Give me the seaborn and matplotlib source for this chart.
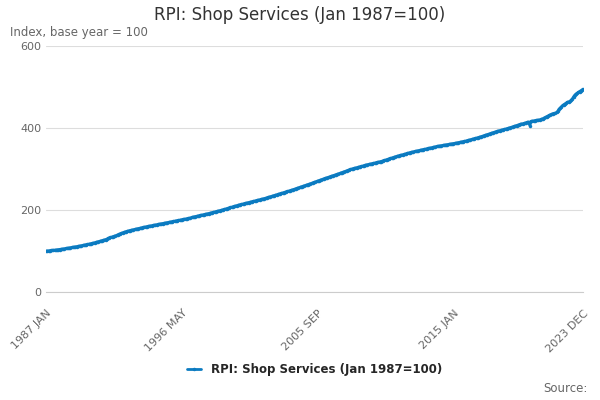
import matplotlib
matplotlib.use("Agg")
import matplotlib.pyplot as plt
import seaborn as sns
import pandas as pd
import numpy as np

years = list(range(1987, 2024))
months = ["JAN","FEB","MAR","APR","MAY","JUN","JUL","AUG","SEP","OCT","NOV","DEC"]
values_by_year = [
[100,100.3,100.6,101,101.3,101.6,102,102.3,102.6,103,103.3,103.6],
[104,104.5,105,105.6,106.1,106.6,107.2,107.7,108.2,108.8,109.3,109.7],
[110,110.6,111.2,111.8,112.4,113,113.6,114.2,114.8,115.4,116,116.5],
[117,117.8,118.6,119.5,120.3,121.1,122,122.8,123.6,124.5,125.3,126.1],
[127,128,129,131,132,133,134,135,136,137,138,139.5],
[141,142,143,144.5,145.5,146.5,147.5,148.5,149.3,150,150.7,151.4],
[152,152.7,153.4,154.1,154.8,155.5,156.2,156.9,157.6,158.3,158.9,159.5],
[160,160.6,161.2,161.8,162.4,163,163.6,164.2,164.8,165.4,166,166.5],
[167,167.6,168.2,168.8,169.4,170,170.6,171.2,171.8,172.4,173,173.5],
[174,174.6,175.2,175.8,176.4,177,177.6,178.2,178.8,179.4,180,180.5],
[182,182.7,183.4,184.1,184.8,185.5,186.2,186.9,187.6,188.3,188.9,189.5],
[190,190.7,191.4,192.2,193,193.8,194.6,195.4,196.2,197,197.7,198.4],
[199,199.9,200.8,201.7,202.6,203.5,204.4,205.3,206.2,207.1,208,209],
[210,210.8,211.5,212.3,213,213.8,214.5,215.3,216,216.8,217.5,218.2],
[219,219.8,220.5,221.3,222,222.8,223.5,224.3,225,225.8,226.5,227.2],
[228,228.9,229.8,230.7,231.6,232.5,233.4,234.3,235.2,236.1,237,238],
[239,239.9,240.8,241.7,242.6,243.5,244.4,245.3,246.2,247.1,248,249],
[250,251,252,253,254,255,256,257,258,259,260,261],
[262,263.1,264.2,265.3,266.4,267.5,268.6,269.7,270.8,271.9,273,274],
[275,276,277,278,279,280,281,282,283,284,285,286],
[287,288.1,289.2,290.3,291.4,292.5,293.6,294.7,295.8,296.9,298,299],
[300,300.8,301.6,302.4,303.2,304,304.8,305.6,306.4,307.2,308.3,309.2],
[310,310.6,311.2,311.8,312.5,313.2,313.9,314.6,315.3,316,316.7,317.3],
[318,319,320,321,322,323,324,325,326,327,328,329],
[330,330.8,331.6,332.4,333.2,334,334.8,335.6,336.4,337.2,338.4,339.2],
[340,340.7,341.4,342.1,342.8,343.5,344.2,344.9,345.6,346.3,347,347.5],
[348,348.7,349.4,350.1,350.8,351.5,352.2,352.9,353.6,354.3,355,355.5],
[356,356.5,357,357.5,358,358.5,359,359.5,360,360.5,361,361.5],
[362,362.6,363.2,363.8,364.4,365,365.6,366.2,366.8,367.4,368.2,369],
[370,370.8,371.6,372.4,373.2,374,374.8,375.6,376.4,377.2,378.2,379],
[380,381,382,383,384,385,386,387,388,389,390,391],
[392,392.8,393.6,394.4,395.2,396,396.8,397.6,398.4,399.2,400.3,401.2],
[402,403,404,405,406,407,408,409,410,410.5,411,412],
[413,414,415,406,416,417,417.5,418,418.5,419,419.5,420],
[421,422,423,425,426.5,428,429.5,431,432.5,434,435,435.5],
[436,438,441,446,449,452,455,457,459,461,463,464],
[465,468,471,476,480,483,485,487,489,491,493,495],
]

labels = [f"{y} {m}" for y in years for m in months]
vals = [v for row in values_by_year for v in row]
series_name = "RPI: Shop Services (Jan 1987=100)"
df = pd.DataFrame({"idx": np.arange(len(vals)), "value": vals, "series": series_name})

sns.set_style("white")
plt.rcParams["font.family"] = ["DejaVu Sans"]
fig, ax = plt.subplots(figsize=(6, 4), dpi=100)
fig.subplots_adjust(left=0.077, right=0.972, top=0.885, bottom=0.27)
color = "#0b7bc1"
sns.lineplot(data=df, x="idx", y="value", hue="series", palette=[color], ax=ax,
             linewidth=2, marker="o", markersize=2.5, markeredgewidth=0)

ax.set_ylim(0, 600)
ax.set_yticks([0, 200, 400, 600])
ax.set_xlim(0, len(vals) - 1)
ax.yaxis.grid(True, color="#dddddd", linewidth=0.8)
ax.tick_params(axis="y", labelsize=8, colors="#666666", length=0)
ticks = list(range(0, len(vals), 28)) + [len(vals) - 1]
ax.set_xticks(ticks)
ax.set_xticklabels([labels[t] if t in (0, 112, 224, 336, len(vals) - 1) else "" for t in ticks],
                   rotation=45, ha="right", rotation_mode="anchor", fontsize=8, color="#666666")
ax.tick_params(axis="x", length=8, color="#cccccc")
for s in ["top", "right", "left"]:
    ax.spines[s].set_visible(False)
ax.spines["bottom"].set_color("#cccccc")
ax.set_xlabel("")
ax.set_ylabel("")
ax.legend(loc="upper center", bbox_to_anchor=(0.5, -0.245), frameon=False,
          handlelength=1.2, prop={"weight": "bold", "size": 8.5})
fig.suptitle("RPI: Shop Services (Jan 1987=100)", x=0.5, y=0.985, fontsize=12, color="#333333")
fig.text(0.017, 0.91, "Index, base year = 100", fontsize=8.5, color="#666666")
fig.text(0.98, 0.02, "Source:", fontsize=8.5, color="#666666", ha="right")
fig.savefig("out.png")
